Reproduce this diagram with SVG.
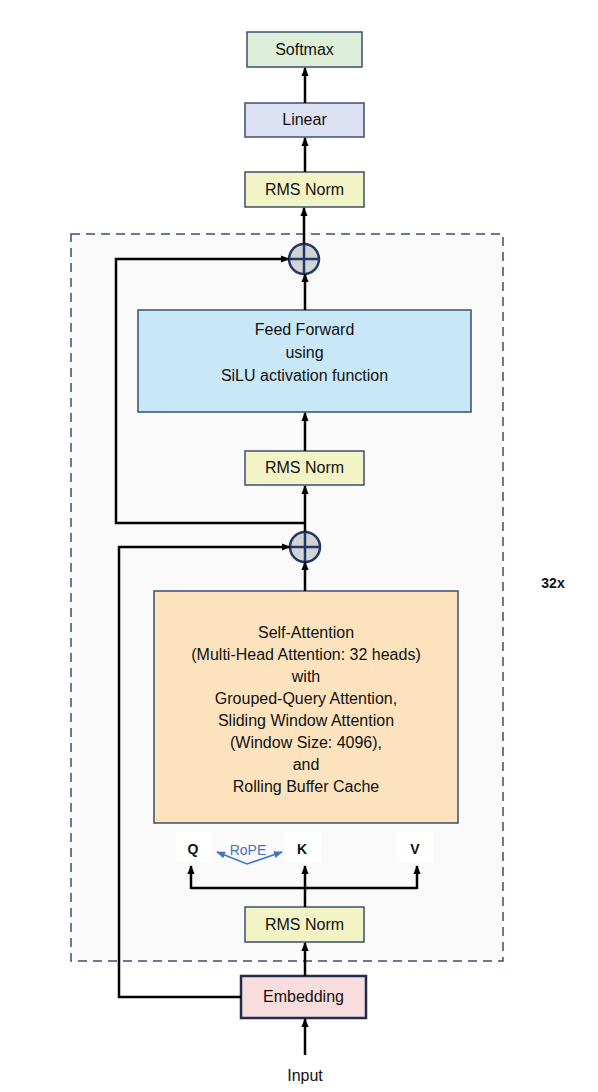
<svg xmlns="http://www.w3.org/2000/svg" width="598" height="1092" viewBox="0 0 598 1092">
<defs>
<marker id="ah" markerUnits="userSpaceOnUse" markerWidth="9" markerHeight="9" viewBox="0 0 10 10" refX="9" refY="5" orient="auto">
<path d="M0,1 L10,5 L0,9 Z" fill="#000"/>
</marker>
<marker id="bh" markerUnits="userSpaceOnUse" markerWidth="9" markerHeight="9" viewBox="0 0 10 10" refX="9" refY="5" orient="auto">
<path d="M0,1 L10,5 L0,9 Z" fill="#4472C4"/>
</marker>
<marker id="bs" markerUnits="userSpaceOnUse" markerWidth="9" markerHeight="9" viewBox="0 0 10 10" refX="1" refY="5" orient="auto">
<path d="M10,1 L0,5 L10,9 Z" fill="#4472C4"/>
</marker>
</defs>
<style>
.box{stroke:#3B4E6E;stroke-width:1.5}
.t{font-family:"Liberation Sans",Arial,sans-serif;font-size:16px;fill:#111;text-anchor:middle}
.b{font-family:"Liberation Sans",Arial,sans-serif;font-size:14px;font-weight:bold;fill:#111;text-anchor:middle}
.c{fill:none;stroke:#000;stroke-width:2.5}
.ca{fill:none;stroke:#000;stroke-width:2.5;marker-end:url(#ah)}
.plus{fill:#D3D3D6;stroke:#1F3864;stroke-width:2.5}
</style>
<rect width="598" height="1092" fill="#fff"/>
<g id="block">
<rect x="71" y="234" width="432" height="727" fill="#FAFAFA" stroke="#3B4E6E" stroke-width="1.5" stroke-dasharray="9,6"/>
<text class="b" x="553" y="588">32x</text>
</g>
<g id="softmax"><rect class="box" x="247" y="32" width="115" height="35" fill="#DDEFD9"/><text class="t" x="304.5" y="55">Softmax</text></g>
<g id="linear"><rect class="box" x="245" y="103" width="119" height="34" fill="#DDE1F3"/><text class="t" x="304.5" y="125">Linear</text></g>
<g id="rmsnorm-top"><rect class="box" x="245" y="172" width="119" height="35" fill="#F3F4C6"/><text class="t" x="304.5" y="195">RMS Norm</text></g>
<g id="add1"><circle class="plus" cx="304" cy="259" r="15"/><path d="M304,244 V274 M289,259 H319" stroke="#1F3864" stroke-width="2.5"/></g>
<g id="ffn"><rect class="box" x="138" y="310" width="333" height="102" fill="#C8E8F8"/>
<text class="t" x="304.5" y="335">Feed Forward</text><text class="t" x="304.5" y="358">using</text><text class="t" x="304.5" y="381">SiLU activation function</text></g>
<g id="rmsnorm-mid"><rect class="box" x="245" y="451" width="119" height="34" fill="#F3F4C6"/><text class="t" x="304.5" y="473">RMS Norm</text></g>
<g id="add2"><circle class="plus" cx="305" cy="547" r="15"/><path d="M305,532 V562 M290,547 H320" stroke="#1F3864" stroke-width="2.5"/></g>
<g id="attention"><rect class="box" x="154" y="591" width="304" height="232" fill="#FCE3BE"/>
<text class="t" x="306" y="638">Self-Attention</text>
<text class="t" x="306" y="660">(Multi-Head Attention: 32 heads)</text>
<text class="t" x="306" y="682">with</text>
<text class="t" x="306" y="704">Grouped-Query Attention,</text>
<text class="t" x="306" y="726">Sliding Window Attention</text>
<text class="t" x="306" y="748">(Window Size: 4096),</text>
<text class="t" x="306" y="770">and</text>
<text class="t" x="306" y="792">Rolling Buffer Cache</text></g>
<g id="q"><rect x="176" y="832" width="36" height="30" fill="#fff"/><text class="b" x="193" y="854">Q</text></g>
<g id="k"><rect x="285" y="832" width="36" height="30" fill="#fff"/><text class="b" x="302" y="854">K</text></g>
<g id="v"><rect x="397" y="832" width="36" height="30" fill="#fff"/><text class="b" x="415" y="854">V</text></g>
<g id="rope"><text x="248" y="855" font-family="Liberation Sans,Arial,sans-serif" font-size="14" fill="#4472C4" text-anchor="middle">RoPE</text>
<path d="M217,852 L247,864 L282,852" fill="none" stroke="#4472C4" stroke-width="1.5" marker-start="url(#bs)" marker-end="url(#bh)"/></g>
<g id="rmsnorm-bot"><rect class="box" x="245" y="907" width="119" height="35" fill="#F3F4C6"/><text class="t" x="304.5" y="930">RMS Norm</text></g>
<g id="embedding"><rect x="241" y="976" width="125" height="42" fill="#F9DCDC" stroke="#1F2D4D" stroke-width="2.5"/><text class="t" x="303.5" y="1002">Embedding</text></g>
<g id="input"><text class="t" x="305" y="1081">Input</text></g>
<g id="connectors">
<path class="ca" d="M305,1055 V1019"/>
<path class="ca" d="M305,976 V943"/>
<path class="ca" d="M305,907 V866"/>
<path class="c" d="M191,888 H417"/>
<path class="ca" d="M191,889 V866"/>
<path class="ca" d="M417,889 V866"/>
<path class="ca" d="M305,591 V562"/>
<path class="ca" d="M241,997 H119 V547 H290"/>
<path class="ca" d="M305,532 V486"/>
<path class="ca" d="M305,523 H116 V259 H289"/>
<path class="ca" d="M305,451 V413"/>
<path class="ca" d="M305,310 V274"/>
<path class="ca" d="M304,244 V208"/>
<path class="ca" d="M305,172 V138"/>
<path class="ca" d="M305,103 V68"/>
</g>
</svg>
